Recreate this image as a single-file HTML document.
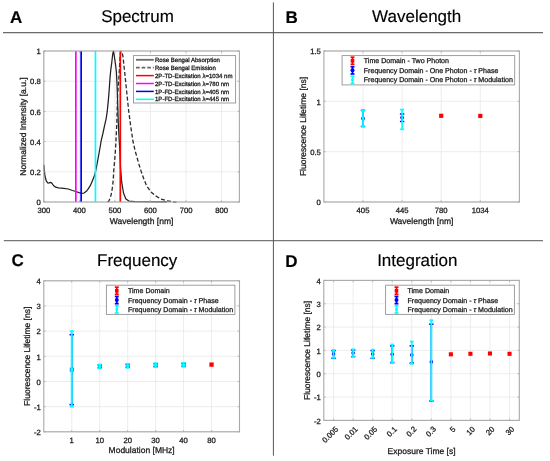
<!DOCTYPE html>
<html><head><meta charset="utf-8"><style>
html,body{margin:0;padding:0;background:#fff;}
body{width:550px;height:461px;overflow:hidden;}
svg{display:block;font-family:"Liberation Sans", sans-serif;will-change:transform;text-rendering:geometricPrecision;}
text{fill:#1a1a1a;stroke:#1a1a1a;stroke-width:0.28px;paint-order:stroke;}
</style></head><body>
<svg width="550" height="461" viewBox="0 0 550 461">
<rect width="550" height="461" fill="#fff"/>
<line x1="43.8" y1="51" x2="43.8" y2="202" stroke="#e8e8e8" stroke-width="0.8"/>
<line x1="79.36" y1="51" x2="79.36" y2="202" stroke="#e8e8e8" stroke-width="0.8"/>
<line x1="114.93" y1="51" x2="114.93" y2="202" stroke="#e8e8e8" stroke-width="0.8"/>
<line x1="150.49" y1="51" x2="150.49" y2="202" stroke="#e8e8e8" stroke-width="0.8"/>
<line x1="186.05" y1="51" x2="186.05" y2="202" stroke="#e8e8e8" stroke-width="0.8"/>
<line x1="221.62" y1="51" x2="221.62" y2="202" stroke="#e8e8e8" stroke-width="0.8"/>
<line x1="43.8" y1="202" x2="239.4" y2="202" stroke="#e8e8e8" stroke-width="0.8"/>
<line x1="43.8" y1="171.8" x2="239.4" y2="171.8" stroke="#e8e8e8" stroke-width="0.8"/>
<line x1="43.8" y1="141.6" x2="239.4" y2="141.6" stroke="#e8e8e8" stroke-width="0.8"/>
<line x1="43.8" y1="111.4" x2="239.4" y2="111.4" stroke="#e8e8e8" stroke-width="0.8"/>
<line x1="43.8" y1="81.2" x2="239.4" y2="81.2" stroke="#e8e8e8" stroke-width="0.8"/>
<line x1="43.8" y1="51" x2="239.4" y2="51" stroke="#e8e8e8" stroke-width="0.8"/>
<polyline points="43.8,164.8 44.2,170.3 45.1,176.8 46.4,181.2 48,183.1 49.1,182.8 50.5,182.3 51.8,183.1 53.5,185.5 55.6,187.2 58.4,187.9 63.8,188.3 68.2,189 72.5,190.5 75.8,191.5 79.1,192.6 81.8,193.4 84,193 86.7,191 88,189.2 90,186.2 91.9,182.1 94.5,175.6 96.1,169 97.8,160 99.7,149.5 101.3,140.1 102.9,133.5 104.5,125.9 106.2,118.3 107.2,111.7 108.3,100.9 109.2,90 110,78 110.8,69.7 111.8,62.3 112.6,55 113.3,51.1 114,54 114.7,59 115.6,65 116.4,72 117,84 117.4,95 117.9,110 118.3,123.2 119.2,140 119.9,152 120.5,167.9 121.7,182.2 123.5,193 125.9,198.9 128.9,201.1 134.8,201.6 167,201.8" fill="none" stroke="#202020" stroke-width="1.25" stroke-linejoin="round"/>
<polyline points="107.6,202.1 108.9,201 110.2,197.8 111.3,194.1 112.1,189.5 112.8,184.4 113.4,177 113.8,169.8 114.7,160 115.3,152 115.8,144.3 116.3,134 116.8,123 117.2,109 117.6,95 118.4,84 119,76 119.4,68.8 119.9,59 120.4,54 121,51.2 122,53 122.9,55.8 123.8,64.2 124.8,73.3 125.8,83 127,95 128.8,112 130.9,127.4 133,141.5 135.2,151 136.9,157 138.8,163.9 141.2,171.5 143.9,179.2 146.5,185.5 150.3,191.3 155.4,195.7 160.5,198.9 166.8,200.8 173.2,201.8 176.4,202.1" fill="none" stroke="#2a2a2a" stroke-width="1.3" stroke-dasharray="4,2.2" stroke-linejoin="round"/>
<line x1="120.3" y1="51" x2="120.3" y2="202" stroke="#ff0000" stroke-width="1.7"/>
<line x1="75.85" y1="51" x2="75.85" y2="202" stroke="#ff00ff" stroke-width="1.7"/>
<line x1="81.15" y1="51" x2="81.15" y2="202" stroke="#0000ff" stroke-width="1.7"/>
<line x1="95.45" y1="51" x2="95.45" y2="202" stroke="#00ffff" stroke-width="1.7"/>
<rect x="43.8" y="51" width="195.6" height="151" fill="none" stroke="#a8a8a8" stroke-width="1.1"/>
<line x1="43.8" y1="202" x2="43.8" y2="200.2" stroke="#a8a8a8" stroke-width="0.8"/>
<line x1="43.8" y1="51" x2="43.8" y2="52.8" stroke="#a8a8a8" stroke-width="0.8"/>
<line x1="79.36" y1="202" x2="79.36" y2="200.2" stroke="#a8a8a8" stroke-width="0.8"/>
<line x1="79.36" y1="51" x2="79.36" y2="52.8" stroke="#a8a8a8" stroke-width="0.8"/>
<line x1="114.93" y1="202" x2="114.93" y2="200.2" stroke="#a8a8a8" stroke-width="0.8"/>
<line x1="114.93" y1="51" x2="114.93" y2="52.8" stroke="#a8a8a8" stroke-width="0.8"/>
<line x1="150.49" y1="202" x2="150.49" y2="200.2" stroke="#a8a8a8" stroke-width="0.8"/>
<line x1="150.49" y1="51" x2="150.49" y2="52.8" stroke="#a8a8a8" stroke-width="0.8"/>
<line x1="186.05" y1="202" x2="186.05" y2="200.2" stroke="#a8a8a8" stroke-width="0.8"/>
<line x1="186.05" y1="51" x2="186.05" y2="52.8" stroke="#a8a8a8" stroke-width="0.8"/>
<line x1="221.62" y1="202" x2="221.62" y2="200.2" stroke="#a8a8a8" stroke-width="0.8"/>
<line x1="221.62" y1="51" x2="221.62" y2="52.8" stroke="#a8a8a8" stroke-width="0.8"/>
<line x1="43.8" y1="202" x2="45.6" y2="202" stroke="#a8a8a8" stroke-width="0.8"/>
<line x1="239.4" y1="202" x2="237.6" y2="202" stroke="#a8a8a8" stroke-width="0.8"/>
<line x1="43.8" y1="171.8" x2="45.6" y2="171.8" stroke="#a8a8a8" stroke-width="0.8"/>
<line x1="239.4" y1="171.8" x2="237.6" y2="171.8" stroke="#a8a8a8" stroke-width="0.8"/>
<line x1="43.8" y1="141.6" x2="45.6" y2="141.6" stroke="#a8a8a8" stroke-width="0.8"/>
<line x1="239.4" y1="141.6" x2="237.6" y2="141.6" stroke="#a8a8a8" stroke-width="0.8"/>
<line x1="43.8" y1="111.4" x2="45.6" y2="111.4" stroke="#a8a8a8" stroke-width="0.8"/>
<line x1="239.4" y1="111.4" x2="237.6" y2="111.4" stroke="#a8a8a8" stroke-width="0.8"/>
<line x1="43.8" y1="81.2" x2="45.6" y2="81.2" stroke="#a8a8a8" stroke-width="0.8"/>
<line x1="239.4" y1="81.2" x2="237.6" y2="81.2" stroke="#a8a8a8" stroke-width="0.8"/>
<line x1="43.8" y1="51" x2="45.6" y2="51" stroke="#a8a8a8" stroke-width="0.8"/>
<line x1="239.4" y1="51" x2="237.6" y2="51" stroke="#a8a8a8" stroke-width="0.8"/>
<text x="40.8" y="205.26" text-anchor="end" font-size="7.7">0</text>
<text x="40.8" y="175.06" text-anchor="end" font-size="7.7">0.2</text>
<text x="40.8" y="144.86" text-anchor="end" font-size="7.7">0.4</text>
<text x="40.8" y="114.66" text-anchor="end" font-size="7.7">0.6</text>
<text x="40.8" y="84.46" text-anchor="end" font-size="7.7">0.8</text>
<text x="40.8" y="54.26" text-anchor="end" font-size="7.7">1</text>
<text x="43.8" y="213" text-anchor="middle" font-size="7.7">300</text>
<text x="79.36" y="213" text-anchor="middle" font-size="7.7">400</text>
<text x="114.93" y="213" text-anchor="middle" font-size="7.7">500</text>
<text x="150.49" y="213" text-anchor="middle" font-size="7.7">600</text>
<text x="186.05" y="213" text-anchor="middle" font-size="7.7">700</text>
<text x="221.62" y="213" text-anchor="middle" font-size="7.7">800</text>
<text x="141.6" y="224" text-anchor="middle" font-size="8.5">Wavelength [nm]</text>
<text x="25.8" y="126.5" text-anchor="middle" font-size="8.5" transform="rotate(-90 25.8 126.5)">Normalized Intensity [a.u.]</text>
<rect x="133.5" y="55.6" width="102.1" height="47.4" fill="#fff" stroke="#959595" stroke-width="0.9"/>
<line x1="136" y1="59.8" x2="153.8" y2="59.8" stroke="#6a6a6a" stroke-width="1.8"/>
<text x="155" y="61.9" font-size="6.05">Rose Bengal Absorption</text>
<line x1="136" y1="67.7" x2="153.8" y2="67.7" stroke="#666" stroke-width="1.8" stroke-dasharray="3.7,1.9"/>
<text x="155" y="69.8" font-size="6.05">Rose Bengal Emission</text>
<line x1="136" y1="75.6" x2="153.8" y2="75.6" stroke="#ff0000" stroke-width="1.5"/>
<text x="155" y="77.7" font-size="6.05">2P-TD-Excitation λ=1034 nm</text>
<line x1="136" y1="83.5" x2="153.8" y2="83.5" stroke="#ff00ff" stroke-width="1.5"/>
<text x="155" y="85.6" font-size="6.05">2P-TD-Excitation λ=780 nm</text>
<line x1="136" y1="91.4" x2="153.8" y2="91.4" stroke="#0000ff" stroke-width="1.5"/>
<text x="155" y="93.5" font-size="6.05">1P-FD-Excitation λ=405 nm</text>
<line x1="136" y1="99.3" x2="153.8" y2="99.3" stroke="#00ffff" stroke-width="1.5"/>
<text x="155" y="101.4" font-size="6.05">1P-FD-Excitation λ=445 nm</text>
<line x1="363" y1="51" x2="363" y2="202" stroke="#e8e8e8" stroke-width="0.8"/>
<line x1="402.1" y1="51" x2="402.1" y2="202" stroke="#e8e8e8" stroke-width="0.8"/>
<line x1="441.2" y1="51" x2="441.2" y2="202" stroke="#e8e8e8" stroke-width="0.8"/>
<line x1="480.3" y1="51" x2="480.3" y2="202" stroke="#e8e8e8" stroke-width="0.8"/>
<line x1="323.9" y1="202" x2="519.4" y2="202" stroke="#e8e8e8" stroke-width="0.8"/>
<line x1="323.9" y1="151.67" x2="519.4" y2="151.67" stroke="#e8e8e8" stroke-width="0.8"/>
<line x1="323.9" y1="101.33" x2="519.4" y2="101.33" stroke="#e8e8e8" stroke-width="0.8"/>
<line x1="323.9" y1="51" x2="519.4" y2="51" stroke="#e8e8e8" stroke-width="0.8"/>
<line x1="363" y1="110.4" x2="363" y2="126.5" stroke="#0000ff" stroke-width="1.5"/>
<line x1="360.8" y1="126.5" x2="365.2" y2="126.5" stroke="#0000ff" stroke-width="1.5"/>
<line x1="360.8" y1="110.4" x2="365.2" y2="110.4" stroke="#0000ff" stroke-width="1.5"/>
<circle cx="363" cy="118.4" r="1.9" fill="#0000ff"/>
<line x1="363" y1="110.7" x2="363" y2="126.2" stroke="#00ffff" stroke-width="1.7"/>
<line x1="361.1" y1="126.2" x2="364.9" y2="126.2" stroke="#00ffff" stroke-width="1.7"/>
<line x1="361.1" y1="110.7" x2="364.9" y2="110.7" stroke="#00ffff" stroke-width="1.7"/>
<rect x="361.7" y="117.1" width="2.6" height="2.6" fill="#00ffff"/>
<line x1="402.1" y1="114" x2="402.1" y2="121.5" stroke="#0000ff" stroke-width="1.5"/>
<line x1="399.9" y1="121.5" x2="404.3" y2="121.5" stroke="#0000ff" stroke-width="1.5"/>
<line x1="399.9" y1="114" x2="404.3" y2="114" stroke="#0000ff" stroke-width="1.5"/>
<circle cx="402.1" cy="117.6" r="1.9" fill="#0000ff"/>
<line x1="402.1" y1="109.6" x2="402.1" y2="129.3" stroke="#00ffff" stroke-width="1.7"/>
<line x1="400.1" y1="129.3" x2="404.1" y2="129.3" stroke="#00ffff" stroke-width="1.7"/>
<line x1="400.1" y1="109.6" x2="404.1" y2="109.6" stroke="#00ffff" stroke-width="1.7"/>
<rect x="439.1" y="113.7" width="4.2" height="4.2" fill="#ff0000"/>
<rect x="478.2" y="113.8" width="4.2" height="4.2" fill="#ff0000"/>
<rect x="323.9" y="51" width="195.5" height="151" fill="none" stroke="#a8a8a8" stroke-width="1.1"/>
<line x1="363" y1="202" x2="363" y2="200.2" stroke="#a8a8a8" stroke-width="0.8"/>
<line x1="363" y1="51" x2="363" y2="52.8" stroke="#a8a8a8" stroke-width="0.8"/>
<line x1="402.1" y1="202" x2="402.1" y2="200.2" stroke="#a8a8a8" stroke-width="0.8"/>
<line x1="402.1" y1="51" x2="402.1" y2="52.8" stroke="#a8a8a8" stroke-width="0.8"/>
<line x1="441.2" y1="202" x2="441.2" y2="200.2" stroke="#a8a8a8" stroke-width="0.8"/>
<line x1="441.2" y1="51" x2="441.2" y2="52.8" stroke="#a8a8a8" stroke-width="0.8"/>
<line x1="480.3" y1="202" x2="480.3" y2="200.2" stroke="#a8a8a8" stroke-width="0.8"/>
<line x1="480.3" y1="51" x2="480.3" y2="52.8" stroke="#a8a8a8" stroke-width="0.8"/>
<line x1="323.9" y1="202" x2="325.7" y2="202" stroke="#a8a8a8" stroke-width="0.8"/>
<line x1="519.4" y1="202" x2="517.6" y2="202" stroke="#a8a8a8" stroke-width="0.8"/>
<line x1="323.9" y1="151.67" x2="325.7" y2="151.67" stroke="#a8a8a8" stroke-width="0.8"/>
<line x1="519.4" y1="151.67" x2="517.6" y2="151.67" stroke="#a8a8a8" stroke-width="0.8"/>
<line x1="323.9" y1="101.33" x2="325.7" y2="101.33" stroke="#a8a8a8" stroke-width="0.8"/>
<line x1="519.4" y1="101.33" x2="517.6" y2="101.33" stroke="#a8a8a8" stroke-width="0.8"/>
<line x1="323.9" y1="51" x2="325.7" y2="51" stroke="#a8a8a8" stroke-width="0.8"/>
<line x1="519.4" y1="51" x2="517.6" y2="51" stroke="#a8a8a8" stroke-width="0.8"/>
<text x="320.9" y="205.26" text-anchor="end" font-size="7.7">0</text>
<text x="320.9" y="154.92" text-anchor="end" font-size="7.7">0.5</text>
<text x="320.9" y="104.59" text-anchor="end" font-size="7.7">1</text>
<text x="320.9" y="54.26" text-anchor="end" font-size="7.7">1.5</text>
<text x="363" y="213" text-anchor="middle" font-size="7.7">405</text>
<text x="402.1" y="213" text-anchor="middle" font-size="7.7">445</text>
<text x="441.2" y="213" text-anchor="middle" font-size="7.7">780</text>
<text x="480.3" y="213" text-anchor="middle" font-size="7.7">1034</text>
<text x="421.65" y="223.7" text-anchor="middle" font-size="8.5">Wavelength [nm]</text>
<text x="305.6" y="126.5" text-anchor="middle" font-size="8.5" transform="rotate(-90 305.6 126.5)">Fluorescence Lifetime [ns]</text>
<rect x="342.1" y="55.6" width="172.6" height="29.3" fill="#fff" stroke="#959595" stroke-width="0.9"/>
<line x1="352.5" y1="57.2" x2="352.5" y2="64.4" stroke="#ff0000" stroke-width="1.7"/>
<line x1="350.55" y1="64.4" x2="354.45" y2="64.4" stroke="#ff0000" stroke-width="1.7"/>
<line x1="350.55" y1="57.2" x2="354.45" y2="57.2" stroke="#ff0000" stroke-width="1.7"/>
<rect x="350.7" y="59" width="3.6" height="3.6" fill="#ff0000"/>
<text x="363.8" y="63.3" font-size="7.07">Time Domain - Two Photon</text>
<line x1="352.5" y1="66.75" x2="352.5" y2="73.95" stroke="#0000ff" stroke-width="1.7"/>
<line x1="350.55" y1="73.95" x2="354.45" y2="73.95" stroke="#0000ff" stroke-width="1.7"/>
<line x1="350.55" y1="66.75" x2="354.45" y2="66.75" stroke="#0000ff" stroke-width="1.7"/>
<circle cx="352.5" cy="70.35" r="2" fill="#0000ff"/>
<text x="363.8" y="72.85" font-size="7.07">Frequency Domain - One Photon - <tspan font-style="italic">τ</tspan> Phase</text>
<line x1="352.5" y1="76.3" x2="352.5" y2="83.5" stroke="#00ffff" stroke-width="1.7"/>
<line x1="350.55" y1="83.5" x2="354.45" y2="83.5" stroke="#00ffff" stroke-width="1.7"/>
<line x1="350.55" y1="76.3" x2="354.45" y2="76.3" stroke="#00ffff" stroke-width="1.7"/>
<rect x="351.2" y="78.6" width="2.6" height="2.6" fill="#00ffff"/>
<text x="363.8" y="82.4" font-size="7.07">Frequency Domain - One Photon - <tspan font-style="italic">τ</tspan> Modulation</text>
<line x1="71.76" y1="280.8" x2="71.76" y2="431.8" stroke="#e8e8e8" stroke-width="0.8"/>
<line x1="99.71" y1="280.8" x2="99.71" y2="431.8" stroke="#e8e8e8" stroke-width="0.8"/>
<line x1="127.67" y1="280.8" x2="127.67" y2="431.8" stroke="#e8e8e8" stroke-width="0.8"/>
<line x1="155.63" y1="280.8" x2="155.63" y2="431.8" stroke="#e8e8e8" stroke-width="0.8"/>
<line x1="183.59" y1="280.8" x2="183.59" y2="431.8" stroke="#e8e8e8" stroke-width="0.8"/>
<line x1="211.54" y1="280.8" x2="211.54" y2="431.8" stroke="#e8e8e8" stroke-width="0.8"/>
<line x1="43.8" y1="431.8" x2="239.5" y2="431.8" stroke="#e8e8e8" stroke-width="0.8"/>
<line x1="43.8" y1="406.63" x2="239.5" y2="406.63" stroke="#e8e8e8" stroke-width="0.8"/>
<line x1="43.8" y1="381.47" x2="239.5" y2="381.47" stroke="#e8e8e8" stroke-width="0.8"/>
<line x1="43.8" y1="356.3" x2="239.5" y2="356.3" stroke="#e8e8e8" stroke-width="0.8"/>
<line x1="43.8" y1="331.13" x2="239.5" y2="331.13" stroke="#e8e8e8" stroke-width="0.8"/>
<line x1="43.8" y1="305.97" x2="239.5" y2="305.97" stroke="#e8e8e8" stroke-width="0.8"/>
<line x1="43.8" y1="280.8" x2="239.5" y2="280.8" stroke="#e8e8e8" stroke-width="0.8"/>
<line x1="71.76" y1="334.66" x2="71.76" y2="404.62" stroke="#0000ff" stroke-width="1.6"/>
<line x1="69.56" y1="404.62" x2="73.96" y2="404.62" stroke="#0000ff" stroke-width="1.6"/>
<line x1="69.56" y1="334.66" x2="73.96" y2="334.66" stroke="#0000ff" stroke-width="1.6"/>
<rect x="69.86" y="367.74" width="3.8" height="3.8" fill="#0000ff"/>
<line x1="71.76" y1="331.13" x2="71.76" y2="406.63" stroke="#00ffff" stroke-width="1.9"/>
<line x1="69.76" y1="406.63" x2="73.76" y2="406.63" stroke="#00ffff" stroke-width="1.9"/>
<line x1="69.76" y1="331.13" x2="73.76" y2="331.13" stroke="#00ffff" stroke-width="1.9"/>
<rect x="70.26" y="368.14" width="3" height="3" fill="#00ffff"/>
<line x1="99.71" y1="364.86" x2="99.71" y2="367.88" stroke="#0000ff" stroke-width="1.4"/>
<line x1="97.61" y1="367.88" x2="101.81" y2="367.88" stroke="#0000ff" stroke-width="1.4"/>
<line x1="97.61" y1="364.86" x2="101.81" y2="364.86" stroke="#0000ff" stroke-width="1.4"/>
<rect x="97.91" y="364.57" width="3.6" height="3.6" fill="#0000ff"/>
<line x1="99.71" y1="364.35" x2="99.71" y2="368.38" stroke="#00ffff" stroke-width="1.4"/>
<line x1="97.61" y1="368.38" x2="101.81" y2="368.38" stroke="#00ffff" stroke-width="1.4"/>
<line x1="97.61" y1="364.35" x2="101.81" y2="364.35" stroke="#00ffff" stroke-width="1.4"/>
<rect x="98.21" y="364.87" width="3" height="3" fill="#00ffff"/>
<line x1="127.67" y1="364.35" x2="127.67" y2="367.37" stroke="#0000ff" stroke-width="1.4"/>
<line x1="125.57" y1="367.37" x2="129.77" y2="367.37" stroke="#0000ff" stroke-width="1.4"/>
<line x1="125.57" y1="364.35" x2="129.77" y2="364.35" stroke="#0000ff" stroke-width="1.4"/>
<rect x="125.87" y="364.06" width="3.6" height="3.6" fill="#0000ff"/>
<line x1="127.67" y1="363.85" x2="127.67" y2="367.88" stroke="#00ffff" stroke-width="1.4"/>
<line x1="125.57" y1="367.88" x2="129.77" y2="367.88" stroke="#00ffff" stroke-width="1.4"/>
<line x1="125.57" y1="363.85" x2="129.77" y2="363.85" stroke="#00ffff" stroke-width="1.4"/>
<rect x="126.17" y="364.36" width="3" height="3" fill="#00ffff"/>
<line x1="155.63" y1="363.6" x2="155.63" y2="366.62" stroke="#0000ff" stroke-width="1.4"/>
<line x1="153.53" y1="366.62" x2="157.73" y2="366.62" stroke="#0000ff" stroke-width="1.4"/>
<line x1="153.53" y1="363.6" x2="157.73" y2="363.6" stroke="#0000ff" stroke-width="1.4"/>
<rect x="153.83" y="363.31" width="3.6" height="3.6" fill="#0000ff"/>
<line x1="155.63" y1="363.1" x2="155.63" y2="367.12" stroke="#00ffff" stroke-width="1.4"/>
<line x1="153.53" y1="367.12" x2="157.73" y2="367.12" stroke="#00ffff" stroke-width="1.4"/>
<line x1="153.53" y1="363.1" x2="157.73" y2="363.1" stroke="#00ffff" stroke-width="1.4"/>
<rect x="154.13" y="363.61" width="3" height="3" fill="#00ffff"/>
<line x1="183.59" y1="363.35" x2="183.59" y2="366.37" stroke="#0000ff" stroke-width="1.4"/>
<line x1="181.49" y1="366.37" x2="185.69" y2="366.37" stroke="#0000ff" stroke-width="1.4"/>
<line x1="181.49" y1="363.35" x2="185.69" y2="363.35" stroke="#0000ff" stroke-width="1.4"/>
<rect x="181.79" y="363.06" width="3.6" height="3.6" fill="#0000ff"/>
<line x1="183.59" y1="362.84" x2="183.59" y2="366.87" stroke="#00ffff" stroke-width="1.4"/>
<line x1="181.49" y1="366.87" x2="185.69" y2="366.87" stroke="#00ffff" stroke-width="1.4"/>
<line x1="181.49" y1="362.84" x2="185.69" y2="362.84" stroke="#00ffff" stroke-width="1.4"/>
<rect x="182.09" y="363.36" width="3" height="3" fill="#00ffff"/>
<rect x="209.39" y="362.46" width="4.3" height="4.3" fill="#ff0000"/>
<rect x="43.8" y="280.8" width="195.7" height="151" fill="none" stroke="#a8a8a8" stroke-width="1.1"/>
<line x1="71.76" y1="431.8" x2="71.76" y2="430" stroke="#a8a8a8" stroke-width="0.8"/>
<line x1="71.76" y1="280.8" x2="71.76" y2="282.6" stroke="#a8a8a8" stroke-width="0.8"/>
<line x1="99.71" y1="431.8" x2="99.71" y2="430" stroke="#a8a8a8" stroke-width="0.8"/>
<line x1="99.71" y1="280.8" x2="99.71" y2="282.6" stroke="#a8a8a8" stroke-width="0.8"/>
<line x1="127.67" y1="431.8" x2="127.67" y2="430" stroke="#a8a8a8" stroke-width="0.8"/>
<line x1="127.67" y1="280.8" x2="127.67" y2="282.6" stroke="#a8a8a8" stroke-width="0.8"/>
<line x1="155.63" y1="431.8" x2="155.63" y2="430" stroke="#a8a8a8" stroke-width="0.8"/>
<line x1="155.63" y1="280.8" x2="155.63" y2="282.6" stroke="#a8a8a8" stroke-width="0.8"/>
<line x1="183.59" y1="431.8" x2="183.59" y2="430" stroke="#a8a8a8" stroke-width="0.8"/>
<line x1="183.59" y1="280.8" x2="183.59" y2="282.6" stroke="#a8a8a8" stroke-width="0.8"/>
<line x1="211.54" y1="431.8" x2="211.54" y2="430" stroke="#a8a8a8" stroke-width="0.8"/>
<line x1="211.54" y1="280.8" x2="211.54" y2="282.6" stroke="#a8a8a8" stroke-width="0.8"/>
<line x1="43.8" y1="431.8" x2="45.6" y2="431.8" stroke="#a8a8a8" stroke-width="0.8"/>
<line x1="239.5" y1="431.8" x2="237.7" y2="431.8" stroke="#a8a8a8" stroke-width="0.8"/>
<line x1="43.8" y1="406.63" x2="45.6" y2="406.63" stroke="#a8a8a8" stroke-width="0.8"/>
<line x1="239.5" y1="406.63" x2="237.7" y2="406.63" stroke="#a8a8a8" stroke-width="0.8"/>
<line x1="43.8" y1="381.47" x2="45.6" y2="381.47" stroke="#a8a8a8" stroke-width="0.8"/>
<line x1="239.5" y1="381.47" x2="237.7" y2="381.47" stroke="#a8a8a8" stroke-width="0.8"/>
<line x1="43.8" y1="356.3" x2="45.6" y2="356.3" stroke="#a8a8a8" stroke-width="0.8"/>
<line x1="239.5" y1="356.3" x2="237.7" y2="356.3" stroke="#a8a8a8" stroke-width="0.8"/>
<line x1="43.8" y1="331.13" x2="45.6" y2="331.13" stroke="#a8a8a8" stroke-width="0.8"/>
<line x1="239.5" y1="331.13" x2="237.7" y2="331.13" stroke="#a8a8a8" stroke-width="0.8"/>
<line x1="43.8" y1="305.97" x2="45.6" y2="305.97" stroke="#a8a8a8" stroke-width="0.8"/>
<line x1="239.5" y1="305.97" x2="237.7" y2="305.97" stroke="#a8a8a8" stroke-width="0.8"/>
<line x1="43.8" y1="280.8" x2="45.6" y2="280.8" stroke="#a8a8a8" stroke-width="0.8"/>
<line x1="239.5" y1="280.8" x2="237.7" y2="280.8" stroke="#a8a8a8" stroke-width="0.8"/>
<text x="40.8" y="435.06" text-anchor="end" font-size="7.7">-2</text>
<text x="40.8" y="409.89" text-anchor="end" font-size="7.7">-1</text>
<text x="40.8" y="384.72" text-anchor="end" font-size="7.7">0</text>
<text x="40.8" y="359.56" text-anchor="end" font-size="7.7">1</text>
<text x="40.8" y="334.39" text-anchor="end" font-size="7.7">2</text>
<text x="40.8" y="309.22" text-anchor="end" font-size="7.7">3</text>
<text x="40.8" y="284.06" text-anchor="end" font-size="7.7">4</text>
<text x="71.76" y="442.8" text-anchor="middle" font-size="7.7">1</text>
<text x="99.71" y="442.8" text-anchor="middle" font-size="7.7">10</text>
<text x="127.67" y="442.8" text-anchor="middle" font-size="7.7">20</text>
<text x="155.63" y="442.8" text-anchor="middle" font-size="7.7">30</text>
<text x="183.59" y="442.8" text-anchor="middle" font-size="7.7">40</text>
<text x="211.54" y="442.8" text-anchor="middle" font-size="7.7">80</text>
<text x="141.65" y="453.4" text-anchor="middle" font-size="8.5">Modulation [MHz]</text>
<text x="30" y="356.3" text-anchor="middle" font-size="8.5" transform="rotate(-90 30 356.3)">Fluorescence Lifetime [ns]</text>
<rect x="106.4" y="285.2" width="128.5" height="29.2" fill="#fff" stroke="#959595" stroke-width="0.9"/>
<line x1="116.8" y1="287.2" x2="116.8" y2="294.4" stroke="#ff0000" stroke-width="1.7"/>
<line x1="114.85" y1="294.4" x2="118.75" y2="294.4" stroke="#ff0000" stroke-width="1.7"/>
<line x1="114.85" y1="287.2" x2="118.75" y2="287.2" stroke="#ff0000" stroke-width="1.7"/>
<rect x="115" y="289" width="3.6" height="3.6" fill="#ff0000"/>
<text x="128" y="293.3" font-size="7.07">Time Domain</text>
<line x1="116.8" y1="296.5" x2="116.8" y2="303.7" stroke="#0000ff" stroke-width="1.7"/>
<line x1="114.85" y1="303.7" x2="118.75" y2="303.7" stroke="#0000ff" stroke-width="1.7"/>
<line x1="114.85" y1="296.5" x2="118.75" y2="296.5" stroke="#0000ff" stroke-width="1.7"/>
<circle cx="116.8" cy="300.1" r="2" fill="#0000ff"/>
<text x="128" y="302.6" font-size="7.07">Frequency Domain - <tspan font-style="italic">τ</tspan> Phase</text>
<line x1="116.8" y1="305.8" x2="116.8" y2="313" stroke="#00ffff" stroke-width="1.7"/>
<line x1="114.85" y1="313" x2="118.75" y2="313" stroke="#00ffff" stroke-width="1.7"/>
<line x1="114.85" y1="305.8" x2="118.75" y2="305.8" stroke="#00ffff" stroke-width="1.7"/>
<rect x="115.5" y="308.1" width="2.6" height="2.6" fill="#00ffff"/>
<text x="128" y="311.9" font-size="7.07">Frequency Domain - <tspan font-style="italic">τ</tspan> Modulation</text>
<line x1="333.57" y1="280.4" x2="333.57" y2="420.4" stroke="#e8e8e8" stroke-width="0.8"/>
<line x1="353.12" y1="280.4" x2="353.12" y2="420.4" stroke="#e8e8e8" stroke-width="0.8"/>
<line x1="372.68" y1="280.4" x2="372.68" y2="420.4" stroke="#e8e8e8" stroke-width="0.8"/>
<line x1="392.22" y1="280.4" x2="392.22" y2="420.4" stroke="#e8e8e8" stroke-width="0.8"/>
<line x1="411.77" y1="280.4" x2="411.77" y2="420.4" stroke="#e8e8e8" stroke-width="0.8"/>
<line x1="431.32" y1="280.4" x2="431.32" y2="420.4" stroke="#e8e8e8" stroke-width="0.8"/>
<line x1="450.88" y1="280.4" x2="450.88" y2="420.4" stroke="#e8e8e8" stroke-width="0.8"/>
<line x1="470.42" y1="280.4" x2="470.42" y2="420.4" stroke="#e8e8e8" stroke-width="0.8"/>
<line x1="489.97" y1="280.4" x2="489.97" y2="420.4" stroke="#e8e8e8" stroke-width="0.8"/>
<line x1="509.52" y1="280.4" x2="509.52" y2="420.4" stroke="#e8e8e8" stroke-width="0.8"/>
<line x1="323.8" y1="420.4" x2="519.3" y2="420.4" stroke="#e8e8e8" stroke-width="0.8"/>
<line x1="323.8" y1="397.07" x2="519.3" y2="397.07" stroke="#e8e8e8" stroke-width="0.8"/>
<line x1="323.8" y1="373.73" x2="519.3" y2="373.73" stroke="#e8e8e8" stroke-width="0.8"/>
<line x1="323.8" y1="350.4" x2="519.3" y2="350.4" stroke="#e8e8e8" stroke-width="0.8"/>
<line x1="323.8" y1="327.07" x2="519.3" y2="327.07" stroke="#e8e8e8" stroke-width="0.8"/>
<line x1="323.8" y1="303.73" x2="519.3" y2="303.73" stroke="#e8e8e8" stroke-width="0.8"/>
<line x1="323.8" y1="280.4" x2="519.3" y2="280.4" stroke="#e8e8e8" stroke-width="0.8"/>
<line x1="333.57" y1="350.6" x2="333.57" y2="358.3" stroke="#0000ff" stroke-width="1.5"/>
<line x1="331.38" y1="358.3" x2="335.77" y2="358.3" stroke="#0000ff" stroke-width="1.5"/>
<line x1="331.38" y1="350.6" x2="335.77" y2="350.6" stroke="#0000ff" stroke-width="1.5"/>
<circle cx="333.57" cy="353.9" r="1.8" fill="#0000ff"/>
<line x1="333.57" y1="350" x2="333.57" y2="357.9" stroke="#00ffff" stroke-width="1.8"/>
<line x1="331.77" y1="357.9" x2="335.38" y2="357.9" stroke="#00ffff" stroke-width="1.8"/>
<line x1="331.77" y1="350" x2="335.38" y2="350" stroke="#00ffff" stroke-width="1.8"/>
<line x1="353.12" y1="349.9" x2="353.12" y2="356.6" stroke="#0000ff" stroke-width="1.5"/>
<line x1="350.93" y1="356.6" x2="355.32" y2="356.6" stroke="#0000ff" stroke-width="1.5"/>
<line x1="350.93" y1="349.9" x2="355.32" y2="349.9" stroke="#0000ff" stroke-width="1.5"/>
<circle cx="353.12" cy="353.1" r="1.8" fill="#0000ff"/>
<line x1="353.12" y1="349.3" x2="353.12" y2="356.9" stroke="#00ffff" stroke-width="1.8"/>
<line x1="351.32" y1="356.9" x2="354.93" y2="356.9" stroke="#00ffff" stroke-width="1.8"/>
<line x1="351.32" y1="349.3" x2="354.93" y2="349.3" stroke="#00ffff" stroke-width="1.8"/>
<line x1="372.68" y1="350.6" x2="372.68" y2="358.3" stroke="#0000ff" stroke-width="1.5"/>
<line x1="370.48" y1="358.3" x2="374.88" y2="358.3" stroke="#0000ff" stroke-width="1.5"/>
<line x1="370.48" y1="350.6" x2="374.88" y2="350.6" stroke="#0000ff" stroke-width="1.5"/>
<circle cx="372.68" cy="354.1" r="1.8" fill="#0000ff"/>
<line x1="372.68" y1="349.7" x2="372.68" y2="357.9" stroke="#00ffff" stroke-width="1.8"/>
<line x1="370.88" y1="357.9" x2="374.48" y2="357.9" stroke="#00ffff" stroke-width="1.8"/>
<line x1="370.88" y1="349.7" x2="374.48" y2="349.7" stroke="#00ffff" stroke-width="1.8"/>
<line x1="392.22" y1="345.9" x2="392.22" y2="362.6" stroke="#0000ff" stroke-width="1.5"/>
<line x1="390.02" y1="362.6" x2="394.42" y2="362.6" stroke="#0000ff" stroke-width="1.5"/>
<line x1="390.02" y1="345.9" x2="394.42" y2="345.9" stroke="#0000ff" stroke-width="1.5"/>
<circle cx="392.22" cy="354.3" r="1.8" fill="#0000ff"/>
<line x1="392.22" y1="344.6" x2="392.22" y2="362.4" stroke="#00ffff" stroke-width="1.8"/>
<line x1="390.42" y1="362.4" x2="394.02" y2="362.4" stroke="#00ffff" stroke-width="1.8"/>
<line x1="390.42" y1="344.6" x2="394.02" y2="344.6" stroke="#00ffff" stroke-width="1.8"/>
<line x1="411.77" y1="345.9" x2="411.77" y2="363.1" stroke="#0000ff" stroke-width="1.5"/>
<line x1="409.57" y1="363.1" x2="413.97" y2="363.1" stroke="#0000ff" stroke-width="1.5"/>
<line x1="409.57" y1="345.9" x2="413.97" y2="345.9" stroke="#0000ff" stroke-width="1.5"/>
<circle cx="411.77" cy="354.9" r="1.8" fill="#0000ff"/>
<line x1="411.77" y1="341.6" x2="411.77" y2="363.8" stroke="#00ffff" stroke-width="1.8"/>
<line x1="409.97" y1="363.8" x2="413.57" y2="363.8" stroke="#00ffff" stroke-width="1.8"/>
<line x1="409.97" y1="341.6" x2="413.57" y2="341.6" stroke="#00ffff" stroke-width="1.8"/>
<line x1="431.32" y1="324.2" x2="431.32" y2="400.9" stroke="#0000ff" stroke-width="1.5"/>
<line x1="429.12" y1="400.9" x2="433.52" y2="400.9" stroke="#0000ff" stroke-width="1.5"/>
<line x1="429.12" y1="324.2" x2="433.52" y2="324.2" stroke="#0000ff" stroke-width="1.5"/>
<circle cx="431.32" cy="361.9" r="1.8" fill="#0000ff"/>
<line x1="431.32" y1="320.2" x2="431.32" y2="400.6" stroke="#00ffff" stroke-width="1.8"/>
<line x1="429.52" y1="400.6" x2="433.12" y2="400.6" stroke="#00ffff" stroke-width="1.8"/>
<line x1="429.52" y1="320.2" x2="433.12" y2="320.2" stroke="#00ffff" stroke-width="1.8"/>
<rect x="448.82" y="352.25" width="4.1" height="4.1" fill="#ff0000"/>
<rect x="468.37" y="351.75" width="4.1" height="4.1" fill="#ff0000"/>
<rect x="487.92" y="351.45" width="4.1" height="4.1" fill="#ff0000"/>
<rect x="507.47" y="351.75" width="4.1" height="4.1" fill="#ff0000"/>
<rect x="323.8" y="280.4" width="195.5" height="140" fill="none" stroke="#a8a8a8" stroke-width="1.1"/>
<line x1="333.57" y1="420.4" x2="333.57" y2="418.6" stroke="#a8a8a8" stroke-width="0.8"/>
<line x1="333.57" y1="280.4" x2="333.57" y2="282.2" stroke="#a8a8a8" stroke-width="0.8"/>
<line x1="353.12" y1="420.4" x2="353.12" y2="418.6" stroke="#a8a8a8" stroke-width="0.8"/>
<line x1="353.12" y1="280.4" x2="353.12" y2="282.2" stroke="#a8a8a8" stroke-width="0.8"/>
<line x1="372.68" y1="420.4" x2="372.68" y2="418.6" stroke="#a8a8a8" stroke-width="0.8"/>
<line x1="372.68" y1="280.4" x2="372.68" y2="282.2" stroke="#a8a8a8" stroke-width="0.8"/>
<line x1="392.22" y1="420.4" x2="392.22" y2="418.6" stroke="#a8a8a8" stroke-width="0.8"/>
<line x1="392.22" y1="280.4" x2="392.22" y2="282.2" stroke="#a8a8a8" stroke-width="0.8"/>
<line x1="411.77" y1="420.4" x2="411.77" y2="418.6" stroke="#a8a8a8" stroke-width="0.8"/>
<line x1="411.77" y1="280.4" x2="411.77" y2="282.2" stroke="#a8a8a8" stroke-width="0.8"/>
<line x1="431.32" y1="420.4" x2="431.32" y2="418.6" stroke="#a8a8a8" stroke-width="0.8"/>
<line x1="431.32" y1="280.4" x2="431.32" y2="282.2" stroke="#a8a8a8" stroke-width="0.8"/>
<line x1="450.88" y1="420.4" x2="450.88" y2="418.6" stroke="#a8a8a8" stroke-width="0.8"/>
<line x1="450.88" y1="280.4" x2="450.88" y2="282.2" stroke="#a8a8a8" stroke-width="0.8"/>
<line x1="470.42" y1="420.4" x2="470.42" y2="418.6" stroke="#a8a8a8" stroke-width="0.8"/>
<line x1="470.42" y1="280.4" x2="470.42" y2="282.2" stroke="#a8a8a8" stroke-width="0.8"/>
<line x1="489.97" y1="420.4" x2="489.97" y2="418.6" stroke="#a8a8a8" stroke-width="0.8"/>
<line x1="489.97" y1="280.4" x2="489.97" y2="282.2" stroke="#a8a8a8" stroke-width="0.8"/>
<line x1="509.52" y1="420.4" x2="509.52" y2="418.6" stroke="#a8a8a8" stroke-width="0.8"/>
<line x1="509.52" y1="280.4" x2="509.52" y2="282.2" stroke="#a8a8a8" stroke-width="0.8"/>
<line x1="323.8" y1="420.4" x2="325.6" y2="420.4" stroke="#a8a8a8" stroke-width="0.8"/>
<line x1="519.3" y1="420.4" x2="517.5" y2="420.4" stroke="#a8a8a8" stroke-width="0.8"/>
<line x1="323.8" y1="397.07" x2="325.6" y2="397.07" stroke="#a8a8a8" stroke-width="0.8"/>
<line x1="519.3" y1="397.07" x2="517.5" y2="397.07" stroke="#a8a8a8" stroke-width="0.8"/>
<line x1="323.8" y1="373.73" x2="325.6" y2="373.73" stroke="#a8a8a8" stroke-width="0.8"/>
<line x1="519.3" y1="373.73" x2="517.5" y2="373.73" stroke="#a8a8a8" stroke-width="0.8"/>
<line x1="323.8" y1="350.4" x2="325.6" y2="350.4" stroke="#a8a8a8" stroke-width="0.8"/>
<line x1="519.3" y1="350.4" x2="517.5" y2="350.4" stroke="#a8a8a8" stroke-width="0.8"/>
<line x1="323.8" y1="327.07" x2="325.6" y2="327.07" stroke="#a8a8a8" stroke-width="0.8"/>
<line x1="519.3" y1="327.07" x2="517.5" y2="327.07" stroke="#a8a8a8" stroke-width="0.8"/>
<line x1="323.8" y1="303.73" x2="325.6" y2="303.73" stroke="#a8a8a8" stroke-width="0.8"/>
<line x1="519.3" y1="303.73" x2="517.5" y2="303.73" stroke="#a8a8a8" stroke-width="0.8"/>
<line x1="323.8" y1="280.4" x2="325.6" y2="280.4" stroke="#a8a8a8" stroke-width="0.8"/>
<line x1="519.3" y1="280.4" x2="517.5" y2="280.4" stroke="#a8a8a8" stroke-width="0.8"/>
<text x="320.8" y="423.66" text-anchor="end" font-size="7.7">-2</text>
<text x="320.8" y="400.32" text-anchor="end" font-size="7.7">-1</text>
<text x="320.8" y="376.99" text-anchor="end" font-size="7.7">0</text>
<text x="320.8" y="353.66" text-anchor="end" font-size="7.7">1</text>
<text x="320.8" y="330.32" text-anchor="end" font-size="7.7">2</text>
<text x="320.8" y="306.99" text-anchor="end" font-size="7.7">3</text>
<text x="320.8" y="283.66" text-anchor="end" font-size="7.7">4</text>
<text x="338.77" y="429.6" text-anchor="end" font-size="7.7" transform="rotate(-45 338.77 429.6)">0.005</text>
<text x="358.32" y="429.6" text-anchor="end" font-size="7.7" transform="rotate(-45 358.32 429.6)">0.01</text>
<text x="377.88" y="429.6" text-anchor="end" font-size="7.7" transform="rotate(-45 377.88 429.6)">0.05</text>
<text x="397.42" y="429.6" text-anchor="end" font-size="7.7" transform="rotate(-45 397.42 429.6)">0.1</text>
<text x="416.97" y="429.6" text-anchor="end" font-size="7.7" transform="rotate(-45 416.97 429.6)">0.2</text>
<text x="436.52" y="429.6" text-anchor="end" font-size="7.7" transform="rotate(-45 436.52 429.6)">0.3</text>
<text x="456.07" y="429.6" text-anchor="end" font-size="7.7" transform="rotate(-45 456.07 429.6)">5</text>
<text x="475.62" y="429.6" text-anchor="end" font-size="7.7" transform="rotate(-45 475.62 429.6)">10</text>
<text x="495.17" y="429.6" text-anchor="end" font-size="7.7" transform="rotate(-45 495.17 429.6)">20</text>
<text x="514.73" y="429.6" text-anchor="end" font-size="7.7" transform="rotate(-45 514.73 429.6)">30</text>
<text x="421.55" y="453.8" text-anchor="middle" font-size="8.5">Exposure Time [s]</text>
<text x="310.1" y="350.4" text-anchor="middle" font-size="8.5" transform="rotate(-90 310.1 350.4)">Fluorescence Lifetime [ns]</text>
<rect x="385.6" y="285.2" width="128.8" height="29.2" fill="#fff" stroke="#959595" stroke-width="0.9"/>
<line x1="396.5" y1="287.2" x2="396.5" y2="294.4" stroke="#ff0000" stroke-width="1.7"/>
<line x1="394.55" y1="294.4" x2="398.45" y2="294.4" stroke="#ff0000" stroke-width="1.7"/>
<line x1="394.55" y1="287.2" x2="398.45" y2="287.2" stroke="#ff0000" stroke-width="1.7"/>
<rect x="394.7" y="289" width="3.6" height="3.6" fill="#ff0000"/>
<text x="407.5" y="293.3" font-size="7.07">Time Domain</text>
<line x1="396.5" y1="296.5" x2="396.5" y2="303.7" stroke="#0000ff" stroke-width="1.7"/>
<line x1="394.55" y1="303.7" x2="398.45" y2="303.7" stroke="#0000ff" stroke-width="1.7"/>
<line x1="394.55" y1="296.5" x2="398.45" y2="296.5" stroke="#0000ff" stroke-width="1.7"/>
<circle cx="396.5" cy="300.1" r="2" fill="#0000ff"/>
<text x="407.5" y="302.6" font-size="7.07">Frequency Domain - <tspan font-style="italic">τ</tspan> Phase</text>
<line x1="396.5" y1="305.8" x2="396.5" y2="313" stroke="#00ffff" stroke-width="1.7"/>
<line x1="394.55" y1="313" x2="398.45" y2="313" stroke="#00ffff" stroke-width="1.7"/>
<line x1="394.55" y1="305.8" x2="398.45" y2="305.8" stroke="#00ffff" stroke-width="1.7"/>
<rect x="395.2" y="308.1" width="2.6" height="2.6" fill="#00ffff"/>
<text x="407.5" y="311.9" font-size="7.07">Frequency Domain - <tspan font-style="italic">τ</tspan> Modulation</text>
<line x1="3" y1="32.6" x2="543" y2="32.6" stroke="#6a6a6a" stroke-width="1.2"/>
<line x1="3.8" y1="240.7" x2="543" y2="240.7" stroke="#777" stroke-width="1.2"/>
<line x1="273.4" y1="2.4" x2="273.4" y2="455.7" stroke="#555" stroke-width="1.0"/>
<text x="10.0" y="23.0" font-size="17" text-anchor="start" font-weight="bold" style="fill:#000;stroke:#000;stroke-width:0.15px">A</text>
<text x="137.5" y="22.4" font-size="17" text-anchor="middle" style="fill:#000;stroke:#000;stroke-width:0.15px">Spectrum</text>
<text x="285.4" y="22.6" font-size="17" text-anchor="start" font-weight="bold" style="fill:#000;stroke:#000;stroke-width:0.15px">B</text>
<text x="416.7" y="22.4" font-size="17" text-anchor="middle" style="fill:#000;stroke:#000;stroke-width:0.15px">Wavelength</text>
<text x="11.4" y="266.3" font-size="17" text-anchor="start" font-weight="bold" style="fill:#000;stroke:#000;stroke-width:0.15px">C</text>
<text x="137.2" y="266.2" font-size="17" text-anchor="middle" style="fill:#000;stroke:#000;stroke-width:0.15px">Frequency</text>
<text x="285.3" y="266.6" font-size="17" text-anchor="start" font-weight="bold" style="fill:#000;stroke:#000;stroke-width:0.15px">D</text>
<text x="417.3" y="266.2" font-size="17" text-anchor="middle" style="fill:#000;stroke:#000;stroke-width:0.15px">Integration</text>
</svg>
</body></html>
